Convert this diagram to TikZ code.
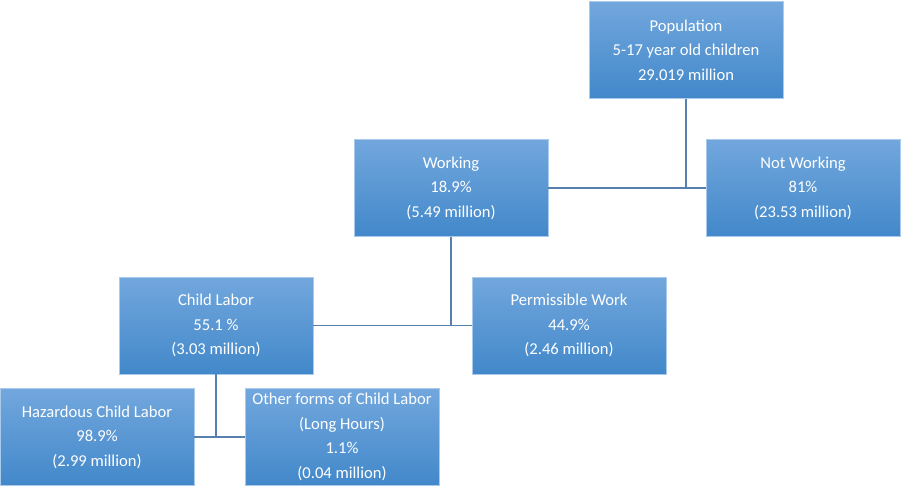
\documentclass[tikz,border=0pt]{standalone}
\usepackage{fontspec}
\setmainfont{Carlito}
\usepackage{tikz}
\definecolor{boxtop}{RGB}{114,167,221}
\definecolor{boxbot}{RGB}{66,136,202}
\definecolor{linkcol}{RGB}{88,128,175}

\begin{document}
\begin{tikzpicture}[x=1pt,y=-1pt,
  box/.style={minimum width=194pt,minimum height=97pt,inner sep=0pt,
    top color=boxtop,bottom color=boxbot,draw=boxtop!60!white,line width=.5pt,
    text=white,align=center,font=\fontsize{16.6}{24.5}\selectfont},
  link/.style={draw=linkcol,line width=1.2pt}]
\useasboundingbox (0,0) rectangle (901,485);
\node[box] (pop) at (686,50) {Population\\5-17 year old children\\29.019 million};
\node[box] (work) at (451,188) {Working\\18.9\%\\(5.49 million)};
\node[box] (notw) at (803,188) {Not Working\\81\%\\(23.53 million)};
\node[box] (child) at (216,325.5) {Child Labor\\55.1 \%\\(3.03 million)};
\node[box] (perm) at (569,325.5) {Permissible Work\\44.9\%\\(2.46 million)};
\node[box] (haz) at (97,437) {Hazardous Child Labor\\98.9\%\\(2.99 million)};
\node[box] (other) at (342,437) {Other forms of Child Labor\\(Long Hours)\\1.1\%\\(0.04 million)};
\draw[link] (work) -- (notw);
\draw[link] (pop) -- (pop.south |- work.east);
\draw[link] (child) -- (perm);
\draw[link] (work) -- (work.south |- child.east);
\draw[link] (haz) -- (other);
\draw[link] (child) -- (child.south |- haz.east);

\end{tikzpicture}
\end{document}
